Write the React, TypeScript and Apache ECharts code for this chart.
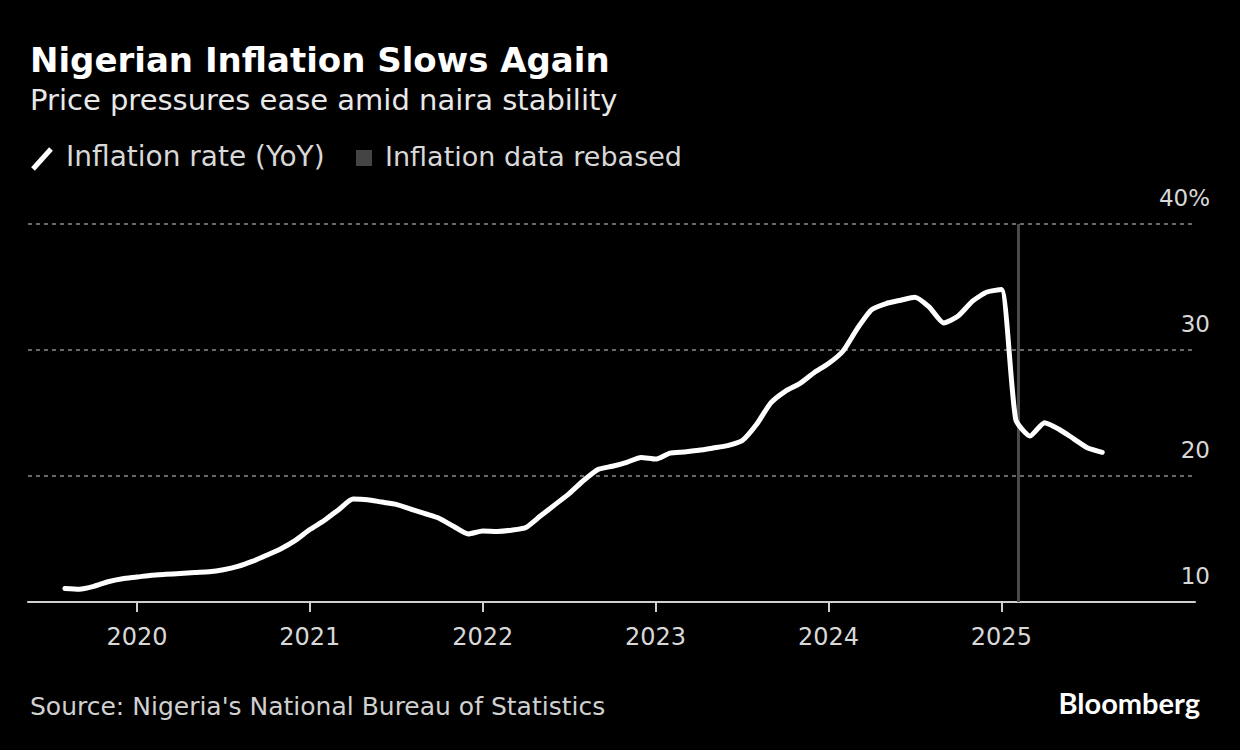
import React, { useEffect, useRef } from "react";
import * as echarts from "echarts";

const START_YEAR = 2019;
const START_MONTH = 7; // July 2019, points plotted at month end
const inflation = [
  11.08, 11.02, 11.24, 11.61, 11.85, 11.98,
  12.13, 12.2, 12.26, 12.34, 12.4, 12.56, 12.82, 13.22, 13.71, 14.23, 14.89, 15.75,
  16.47, 17.33, 18.17, 18.12, 17.93, 17.75, 17.38, 17.01, 16.63, 15.99, 15.4, 15.63,
  15.6, 15.7, 15.92, 16.82, 17.71, 18.6, 19.64, 20.52, 20.77, 21.09, 21.47, 21.34,
  21.82, 21.91, 22.04, 22.22, 22.41, 22.79, 24.08, 25.8, 26.72, 27.33, 28.2, 28.92,
  29.9, 31.7, 33.2, 33.69, 33.95, 34.19, 33.4, 32.15, 32.7, 33.88, 34.6, 34.8,
  24.48, 23.18, 24.23, 23.71, 22.97, 22.22, 21.88,
];
const yearTicks = [2020, 2021, 2022, 2023, 2024, 2025];
const rebasedAt = 2025 + 1 / 12 + 0.012;

const FONT = "'DejaVu Sans', sans-serif";

export default function App() {
  const ref = useRef<HTMLDivElement>(null);
  useEffect(() => {
    document.body.style.margin = "0";
    document.body.style.background = "#000";
    const chart = echarts.init(ref.current!, null, { renderer: "svg" });
    const data = inflation.map((v, i) => {
      const m = START_MONTH + i; // month end
      return [START_YEAR + m / 12, v];
    });
    chart.setOption({
      animation: false,
      backgroundColor: "#000",
      grid: { left: 28, right: 45, top: 224, bottom: 148 },
      xAxis: {
        type: "value",
        min: 2019.37,
        max: 2026.12,
        splitLine: { show: false },
        axisLine: { show: true, lineStyle: { color: "#d0d0d0", width: 2 } },
        axisTick: {
          show: true,
          customValues: yearTicks,
          length: 10,
          lineStyle: { color: "#d0d0d0", width: 2 },
        },
        axisLabel: {
          customValues: yearTicks,
          formatter: (v: number) => String(Math.round(v)),
          color: "#d8d8d8",
          fontFamily: FONT,
          fontSize: 24,
          margin: 23,
        },
      },
      yAxis: {
        type: "value",
        position: "right",
        min: 10,
        max: 40,
        interval: 10,
        axisLine: { show: false },
        axisTick: { show: false },
        splitLine: {
          show: true,
          lineStyle: { color: "#8a8a8a", type: [4, 4], width: 1.5 },
        },
        axisLabel: {
          align: "right",
          verticalAlign: "bottom",
          margin: 15,
          padding: [0, 0, 15, 0],
          color: "#d8d8d8",
          fontFamily: FONT,
          fontSize: 23,
          formatter: (v: number) => (v === 40 ? v + "%" : String(v)),
        },
      },
      series: [
        {
          type: "line",
          data,
          showSymbol: false,
          smooth: 0.2,
          lineStyle: { color: "#fff", width: 5, cap: "round", join: "round" },
          z: 3,
          markLine: {
            silent: true,
            symbol: "none",
            label: { show: false },
            lineStyle: { color: "#4a4a4a", width: 3, type: "solid" },
            data: [[{ coord: [rebasedAt, 40] }, { coord: [rebasedAt, 10] }]],
            z: 1,
          },
        },
      ],
      graphic: [
        {
          type: "text",
          left: 30,
          top: 43,
          style: {
            text: "Nigerian Inflation Slows Again",
            fill: "#fff",
            font: `bold 34px ${FONT}`,
          },
        },
        {
          type: "text",
          left: 30,
          top: 85,
          style: {
            text: "Price pressures ease amid naira stability",
            fill: "#e8e8e8",
            font: `29px ${FONT}`,
          },
        },
        {
          type: "line",
          shape: { x1: 33, y1: 169, x2: 51, y2: 149 },
          style: { stroke: "#fff", lineWidth: 5 },
        },
        {
          type: "text",
          left: 66,
          top: 142,
          style: {
            text: "Inflation rate (YoY)",
            fill: "#d8d8d8",
            font: `28px ${FONT}`,
          },
        },
        {
          type: "rect",
          shape: { x: 356, y: 150, width: 16, height: 16 },
          style: { fill: "#444" },
        },
        {
          type: "text",
          left: 385,
          top: 143,
          style: {
            text: "Inflation data rebased",
            fill: "#d8d8d8",
            font: `27px ${FONT}`,
          },
        },
        {
          type: "text",
          left: 30,
          top: 694,
          style: {
            text: "Source: Nigeria's National Bureau of Statistics",
            fill: "#d0d0d0",
            font: `25px ${FONT}`,
          },
        },
        {
          type: "text",
          right: 40,
          top: 688,
          style: {
            text: "Bloomberg",
            fill: "#fff",
            font: `bold 29px 'Lato', 'Noto Sans', sans-serif`,
          },
        },
      ],
    });
    return () => chart.dispose();
  }, []);
  return <div ref={ref} style={{ width: 1240, height: 750 }} />;
}
